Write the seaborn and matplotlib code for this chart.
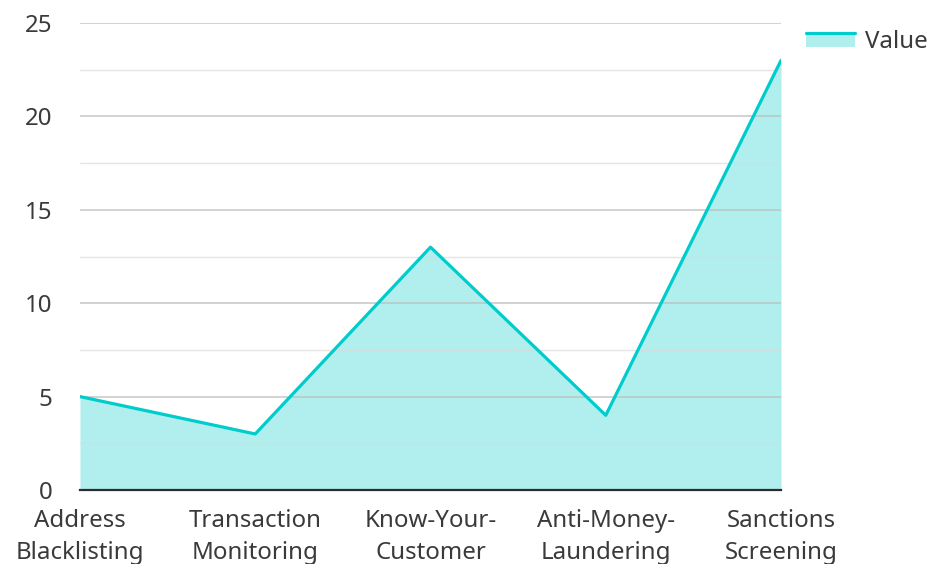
import textwrap
import numpy as np
import pandas as pd
import matplotlib
matplotlib.use("Agg")
import matplotlib.pyplot as plt
import seaborn as sns
from matplotlib.lines import Line2D
from matplotlib.patches import Rectangle, Patch
from matplotlib.legend_handler import HandlerBase
from matplotlib.ticker import MultipleLocator

# DATA
categories = ["Address Blacklisting", "Transaction Monitoring", "Know-Your-Customer",
              "Anti-Money-Laundering", "Sanctions Screening"]
values = [5, 3, 13, 4, 23]
series_name = "Value"

LINE_COLOR = "#00CCCC"
FILL_COLOR = "#B0EFEE"
TEXT_COLOR = "#3A3A3A"
FS = 17.3


def wrap_label(s):
    return "\n".join(textwrap.wrap(s, 11, break_long_words=False))


df = pd.DataFrame({"x": np.arange(len(categories)), "y": values})

sns.set_style("white")
plt.rcParams["font.family"] = ["Noto Sans", "DejaVu Sans"]

fig = plt.figure(figsize=(9.3, 5.64), dpi=100)
ax = fig.add_axes([0.086, 0.1312, 0.7538, 0.828])

ax.fill_between(df["x"], df["y"], 0, color=FILL_COLOR, linewidth=0, zorder=1)
sns.lineplot(data=df, x="x", y="y", color=LINE_COLOR, linewidth=2.3, ax=ax, zorder=3)

ax.set_xlim(0, len(categories) - 1)
ax.set_ylim(0, 25)
ax.yaxis.set_major_locator(MultipleLocator(5))
ax.yaxis.set_minor_locator(MultipleLocator(2.5))
ax.grid(which="major", axis="y", color="#BDBDBD", alpha=0.85, linewidth=1.1, zorder=2)
ax.grid(which="minor", axis="y", color="#DADADA", alpha=0.7, linewidth=1.0, zorder=2)
ax.set_axisbelow(False)

ax.set_xticks(df["x"])
ax.set_xticklabels([wrap_label(c) for c in categories], fontsize=FS,
                   color=TEXT_COLOR, linespacing=1.4)
ax.tick_params(axis="x", length=0, pad=14)
ax.tick_params(axis="y", which="both", length=0, pad=20, labelsize=FS, labelcolor=TEXT_COLOR)
ax.set_xlabel("")
ax.set_ylabel("")

for side in ["left", "right", "top"]:
    ax.spines[side].set_visible(False)
ax.spines["bottom"].set_color("#2B2B2B")
ax.spines["bottom"].set_linewidth(1.6)
ax.spines["bottom"].set_zorder(4)


class AreaHandler(HandlerBase):
    def create_artists(self, legend, orig_handle, xdescent, ydescent, width, height, fontsize, trans):
        rect = Rectangle((-xdescent, -ydescent), width, height * 0.9,
                         facecolor=FILL_COLOR, edgecolor="none", transform=trans)
        line = Line2D([-xdescent, -xdescent + width], [-ydescent + height * 0.9] * 2,
                      color=LINE_COLOR, linewidth=2.3, transform=trans)
        return [rect, line]


handle = Patch(facecolor=FILL_COLOR)
fig.legend([handle], [series_name], handler_map={Patch: AreaHandler()},
           loc="upper left", bbox_to_anchor=(0.8667, 0.947), frameon=False,
           borderpad=0, borderaxespad=0,
           fontsize=FS, handlelength=2.05, handleheight=0.65, handletextpad=0.42,
           labelcolor=TEXT_COLOR)

fig.savefig("out.png", dpi=100)
